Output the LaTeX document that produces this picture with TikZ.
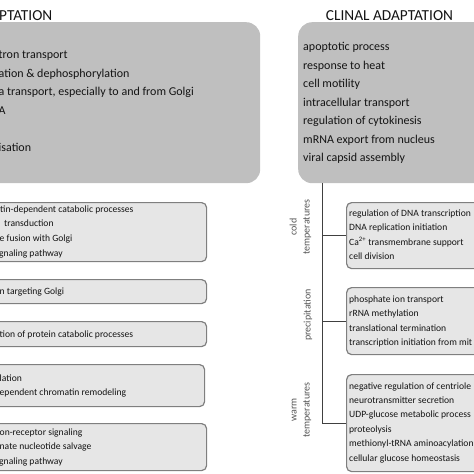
\documentclass[tikz,border=0pt]{standalone}
\usepackage{fontspec}
\setmainfont{Carlito}
\usetikzlibrary{calc}
\definecolor{bigfill}{HTML}{BFBFBF}
\definecolor{smallfill}{HTML}{E6E6E6}
\definecolor{smallline}{HTML}{7F7F7F}
\definecolor{conncol}{HTML}{404040}
\definecolor{txt}{HTML}{141414}
\definecolor{labcol}{HTML}{555555}
\tikzset{
  bigbox/.style={fill=bigfill, draw=none, rounded corners=14pt, inner sep=0pt, anchor=north west},
  smallbox/.style={fill=smallfill, draw=smallline, line width=1.2pt, rounded corners=5pt, inner sep=0pt, anchor=north west},
  bigtxt/.style={anchor=base west, inner sep=0pt, text=txt, font=\fontsize{12}{13}\selectfont},
  smalltxt/.style={anchor=base west, inner sep=0pt, text=txt, font=\fontsize{9.6}{11}\selectfont},
  titletxt/.style={inner sep=0pt, text=txt, font=\fontsize{15.3}{17}\selectfont},
  sidelab/.style={inner sep=0pt, text=labcol, rotate=90, align=center, font=\fontsize{10}{13}\selectfont},
  conn/.style={draw=conncol, line width=0.9pt}
}
\begin{document}
\begin{tikzpicture}[x=1pt,y=-1pt]
\useasboundingbox (0,0) rectangle (474,474);
% titles
\node[titletxt, anchor=base west] (titleL) at (-1,20) {PTATION};
\node[titletxt, anchor=base] (titleR) at (389.5,20) {CLINAL ADAPTATION};
% big boxes
\node[bigbox, minimum width=280pt, minimum height=161pt] (bigL) at (-20,22) {};
\node[bigbox, minimum width=196pt, minimum height=161pt] (bigR) at (298,22) {};
\foreach \t [count=\i from 0] in {tron transport, ation \& dephosphorylation, {a transport, especially to and from Golgi}, A, {}, isation}
  \node[bigtxt] (bigL-t\i) at (-1.5,{58.5+18.5*\i}) {\t};
\foreach \t [count=\i from 0] in {apoptotic process, response to heat, cell motility, intracellular transport, regulation of cytokinesis, mRNA export from nucleus, viral capsid assembly}
  \node[bigtxt] (bigR-t\i) at (303,{50.5+18.5*\i}) {\t};
% left small boxes
\node[smallbox, minimum width=216pt, minimum height=59pt] (L1) at (-10,202) {};
\node[smallbox, minimum width=216pt, minimum height=24pt] (L2) at (-10,279) {};
\node[smallbox, minimum width=216pt, minimum height=25pt] (L3) at (-10,321) {};
\node[smallbox, minimum width=214pt, minimum height=42pt] (L4) at (-10,364) {};
\node[smallbox, minimum width=216pt, minimum height=47pt] (L5) at (-10,423) {};
\node[smalltxt] (L1-t0) at (0,212) {tin-dependent catabolic processes};
\node[smalltxt] (L1-t1) at (4,226.8) {transduction};
\node[smalltxt] (L1-t2) at (-0.5,241.6) {e fusion with Golgi};
\node[smalltxt] (L1-t3) at (-1,256.4) {gnaling pathway};
\node[smalltxt] (L2-t0) at (-0.5,294) {n targeting Golgi};
\node[smalltxt] (L3-t0) at (-0.5,337) {tion of protein catabolic processes};
\node[smalltxt] (L4-t0) at (-0.5,381) {lation};
\node[smalltxt] (L4-t1) at (-0.5,395.5) {ependent chromatin remodeling};
\node[smalltxt] (L5-t0) at (-0.5,435) {on-receptor signaling};
\node[smalltxt] (L5-t1) at (-0.5,449.5) {nate nucleotide salvage};
\node[smalltxt] (L5-t2) at (-1,464) {gnaling pathway};
% right small boxes
\node[smallbox, minimum width=140pt, minimum height=66pt] (cold) at (346,202) {};
\node[smallbox, minimum width=140pt, minimum height=67pt] (precip) at (346,287) {};
\node[smallbox, minimum width=140pt, minimum height=97pt] (warm) at (346,374) {};
\foreach \t [count=\i from 0] in {regulation of DNA transcription, DNA replication initiation, Ca\textsuperscript{2+} transmembrane support, cell division}
  \node[smalltxt] (cold-t\i) at (349,{216+14.5*\i}) {\t};
\foreach \t [count=\i from 0] in {phosphate ion transport, rRNA methylation, translational termination, transcription initiation from mit}
  \node[smalltxt] (precip-t\i) at (349,{302+14.5*\i}) {\t};
\foreach \t [count=\i from 0] in {negative regulation of centriole, neurotransmitter secretion, UDP-glucose metabolic process, proteolysis, methionyl-tRNA aminoacylation, cellular glucose homeostasis}
  \node[smalltxt] (warm-t\i) at (349,{389+14.4*\i}) {\t};
% side labels
\node[sidelab] (labcold) at (300.5,227) {cold\\temperatures};
\node[sidelab] (labprecip) at (308,315) {precipitation};
\node[sidelab] (labwarm) at (301.5,410) {warm\\temperatures};
% connectors
\coordinate (trunk) at ($(bigR.south west)+(24,0)$);
\draw[conn] (trunk) |- (warm.west);
\draw[conn] (trunk) |- (cold.west);
\draw[conn] (trunk) |- (precip.west);
\end{tikzpicture}
\end{document}
